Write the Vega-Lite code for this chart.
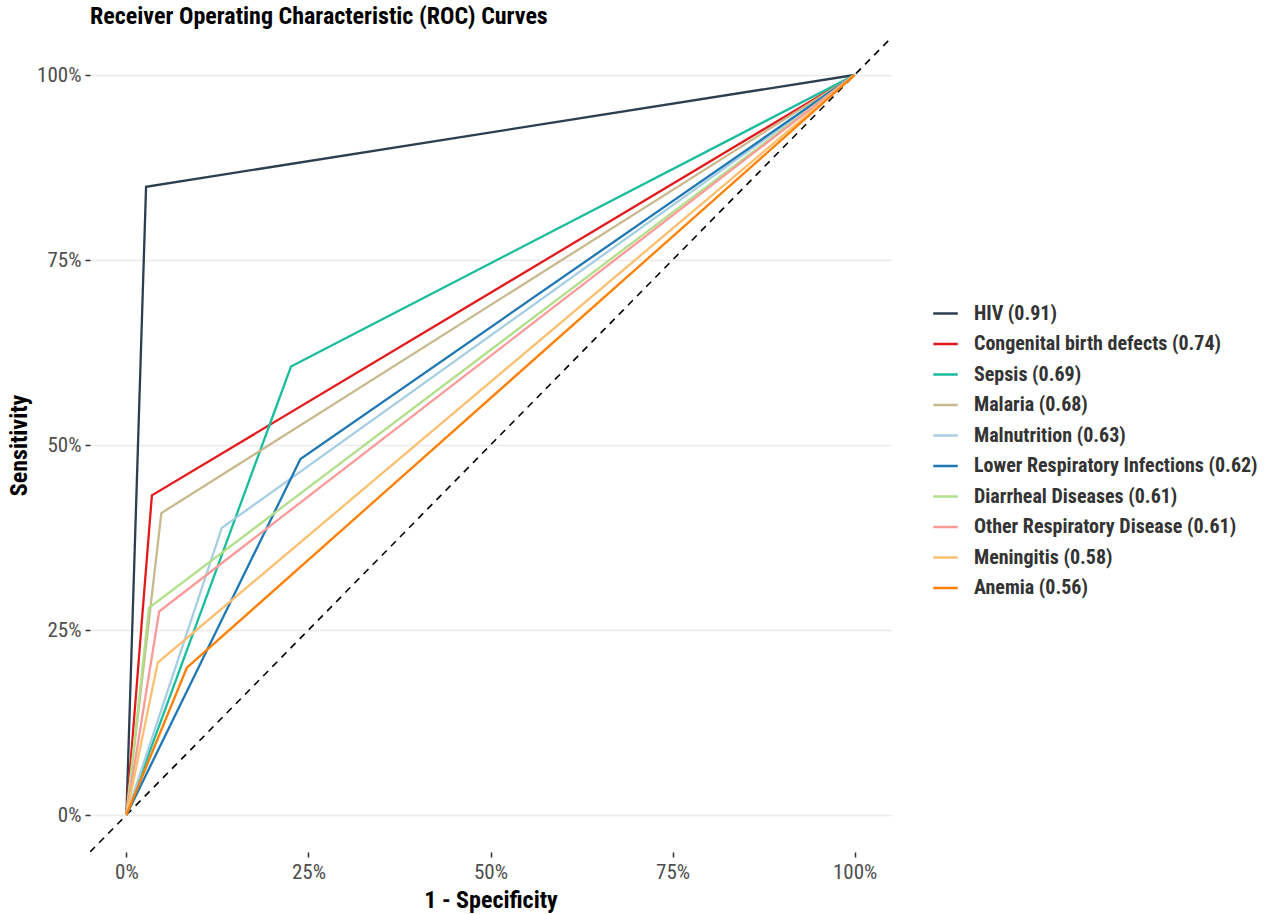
{
  "$schema": "https://vega.github.io/schema/vega-lite/v6.json",
  "autosize": "none",
  "width": 801,
  "height": 814,
  "padding": {"left": 90, "top": 38, "right": 389, "bottom": 62},
  "title": {
    "text": "Receiver Operating Characteristic (ROC) Curves",
    "anchor": "start",
    "frame": "group",
    "fontSize": 24,
    "fontWeight": "bold",
    "color": "#000000",
    "offset": 9
  },
  "config": {
    "font": "Roboto Condensed, Liberation Sans Narrow, Roboto, sans-serif",
    "view": {"stroke": null},
    "axis": {
      "domain": false,
      "labelFontSize": 21,
      "labelColor": "#4d4d4d",
      "tickColor": "#333333",
      "tickWidth": 1.5,
      "tickSize": 5,
      "labelPadding": 4,
      "titleFontSize": 24,
      "titleFontWeight": "bold",
      "titleColor": "#000000",
      "gridColor": "#ebebeb",
      "gridWidth": 1.3
    }
  },
  "datasets": {
    "roc": [
      {"disease": "HIV", "auc": 0.91, "fpr": 0, "tpr": 0},
      {"disease": "HIV", "auc": 0.91, "fpr": 0.027, "tpr": 0.849},
      {"disease": "HIV", "auc": 0.91, "fpr": 1, "tpr": 1},
      {"disease": "Congenital birth defects", "auc": 0.74, "fpr": 0, "tpr": 0},
      {"disease": "Congenital birth defects", "auc": 0.74, "fpr": 0.035, "tpr": 0.432},
      {"disease": "Congenital birth defects", "auc": 0.74, "fpr": 1, "tpr": 1},
      {"disease": "Sepsis", "auc": 0.69, "fpr": 0, "tpr": 0},
      {"disease": "Sepsis", "auc": 0.69, "fpr": 0.226, "tpr": 0.606},
      {"disease": "Sepsis", "auc": 0.69, "fpr": 1, "tpr": 1},
      {"disease": "Malaria", "auc": 0.68, "fpr": 0, "tpr": 0},
      {"disease": "Malaria", "auc": 0.68, "fpr": 0.048, "tpr": 0.408},
      {"disease": "Malaria", "auc": 0.68, "fpr": 1, "tpr": 1},
      {"disease": "Malnutrition", "auc": 0.63, "fpr": 0, "tpr": 0},
      {"disease": "Malnutrition", "auc": 0.63, "fpr": 0.131, "tpr": 0.388},
      {"disease": "Malnutrition", "auc": 0.63, "fpr": 1, "tpr": 1},
      {"disease": "Lower Respiratory Infections", "auc": 0.62, "fpr": 0, "tpr": 0},
      {"disease": "Lower Respiratory Infections", "auc": 0.62, "fpr": 0.239, "tpr": 0.481},
      {"disease": "Lower Respiratory Infections", "auc": 0.62, "fpr": 1, "tpr": 1},
      {"disease": "Diarrheal Diseases", "auc": 0.61, "fpr": 0, "tpr": 0},
      {"disease": "Diarrheal Diseases", "auc": 0.61, "fpr": 0.031, "tpr": 0.28},
      {"disease": "Diarrheal Diseases", "auc": 0.61, "fpr": 1, "tpr": 1},
      {"disease": "Other Respiratory Disease", "auc": 0.61, "fpr": 0, "tpr": 0},
      {"disease": "Other Respiratory Disease", "auc": 0.61, "fpr": 0.045, "tpr": 0.275},
      {"disease": "Other Respiratory Disease", "auc": 0.61, "fpr": 1, "tpr": 1},
      {"disease": "Meningitis", "auc": 0.58, "fpr": 0, "tpr": 0},
      {"disease": "Meningitis", "auc": 0.58, "fpr": 0.043, "tpr": 0.206},
      {"disease": "Meningitis", "auc": 0.58, "fpr": 1, "tpr": 1},
      {"disease": "Anemia", "auc": 0.56, "fpr": 0, "tpr": 0},
      {"disease": "Anemia", "auc": 0.56, "fpr": 0.083, "tpr": 0.199},
      {"disease": "Anemia", "auc": 0.56, "fpr": 1, "tpr": 1}
    ],
    "diagonal": [
      {"fpr": -0.05, "tpr": -0.05},
      {"fpr": 1.05, "tpr": 1.05}
    ]
  },
  "encoding": {
    "x": {
      "field": "fpr",
      "type": "quantitative",
      "title": "1 - Specificity",
      "scale": {"domain": [-0.05, 1.05], "nice": false, "zero": false},
      "axis": {"values": [0, 0.25, 0.5, 0.75, 1], "format": ".0%", "grid": false, "titlePadding": 6}
    },
    "y": {
      "field": "tpr",
      "type": "quantitative",
      "title": "Sensitivity",
      "scale": {"domain": [-0.05, 1.05], "nice": false, "zero": false},
      "axis": {"values": [0, 0.25, 0.5, 0.75, 1], "format": ".0%", "grid": true, "titlePadding": 5}
    }
  },
  "layer": [
    {
      "data": {"name": "diagonal"},
      "mark": {"type": "line", "color": "#000000", "strokeDash": [7, 6], "strokeWidth": 1.6, "clip": true},
      "encoding": {}
    },
    {
      "data": {"name": "roc"},
      "transform": [
        {"calculate": "datum.disease + ' (' + format(datum.auc, '.2f') + ')'", "as": "series"}
      ],
      "mark": {"type": "line", "strokeWidth": 2.3, "clip": true},
      "encoding": {
        "color": {
          "field": "series",
          "type": "nominal",
          "sort": null,
          "scale": {
            "domain": [
              "HIV (0.91)",
              "Congenital birth defects (0.74)",
              "Sepsis (0.69)",
              "Malaria (0.68)",
              "Malnutrition (0.63)",
              "Lower Respiratory Infections (0.62)",
              "Diarrheal Diseases (0.61)",
              "Other Respiratory Disease (0.61)",
              "Meningitis (0.58)",
              "Anemia (0.56)"
            ],
            "range": ["#2c3e50", "#e31a1c", "#1abc9c", "#c8b88c", "#a6cee3", "#1f78b4", "#b2df8a", "#fb9a99", "#fdbf6f", "#ff7f00"]
          },
          "legend": {
            "title": null,
            "orient": "none",
            "legendX": 842,
            "legendY": 262,
            "padding": 0,
            "symbolType": "stroke",
            "symbolSize": 600,
            "symbolStrokeWidth": 2.5,
            "labelFontSize": 20,
            "labelFontWeight": "bold",
            "labelColor": "#333333",
            "labelOffset": 15,
            "rowPadding": 6.5,
            "labelLimit": 400
          }
        },
        "detail": {"field": "disease", "type": "nominal"}
      }
    }
  ]
}
